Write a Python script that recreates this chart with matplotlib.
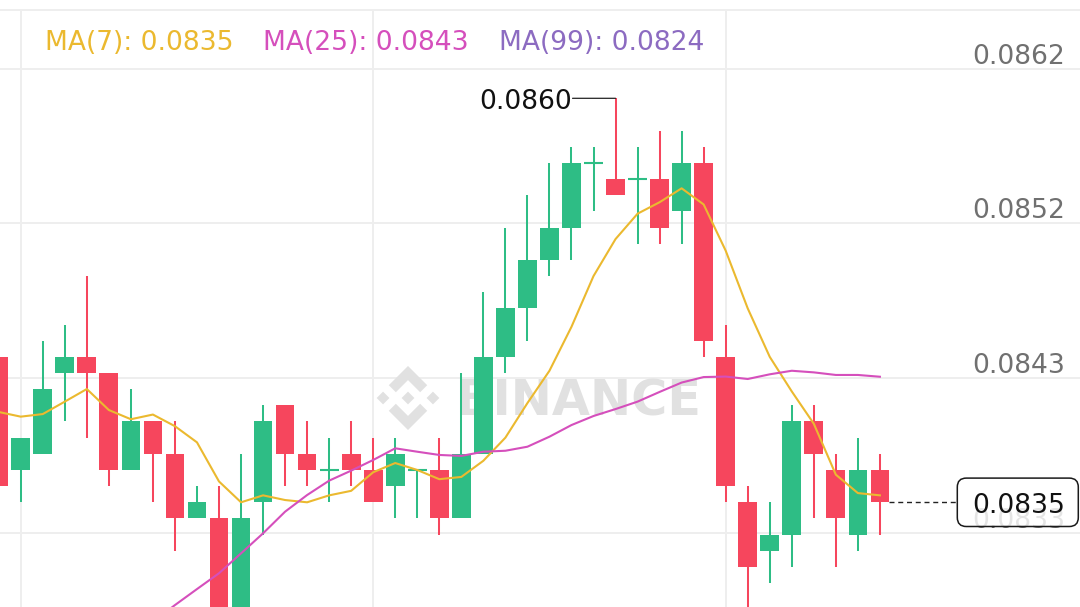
import matplotlib
matplotlib.use("Agg")
import matplotlib.pyplot as plt
from matplotlib.patches import Rectangle, FancyBboxPatch, Polygon
from matplotlib.transforms import IdentityTransform
import numpy as np

plt.rcParams['font.family'] = ['DejaVu Sans']

# ---------------- data ----------------
opens = [0.0844, 0.0837, 0.0838, 0.0843, 0.0844, 0.0843, 0.0837, 0.0840, 0.0838, 0.0834,
         0.0834, 0.0827, 0.0835, 0.0841, 0.0838, 0.0837, 0.0838, 0.0837, 0.0836, 0.0837,
         0.0837, 0.0834, 0.0838, 0.0844, 0.0847, 0.0850, 0.0852, 0.0856, 0.0855, 0.0855,
         0.0855, 0.0853, 0.0856, 0.0844, 0.0835, 0.0832, 0.0833, 0.0840, 0.0837, 0.0833,
         0.0837]
highs = [0.0845, 0.0839, 0.0845, 0.0846, 0.0849, 0.0843, 0.0842, 0.0840, 0.0840, 0.0836,
         0.0836, 0.0838, 0.0841, 0.0841, 0.0840, 0.0839, 0.0840, 0.0839, 0.0839, 0.0837,
         0.0839, 0.0843, 0.0848, 0.0852, 0.0854, 0.0856, 0.0857, 0.0857, 0.0860, 0.0857,
         0.0858, 0.0858, 0.0857, 0.0846, 0.0836, 0.0835, 0.0841, 0.0841, 0.0838, 0.0839,
         0.0838]
lows = [0.0835, 0.0835, 0.0838, 0.0840, 0.0839, 0.0836, 0.0837, 0.0835, 0.0832, 0.0834,
        0.0826, 0.0826, 0.0833, 0.0836, 0.0836, 0.0835, 0.0836, 0.0835, 0.0834, 0.0834,
        0.0833, 0.0834, 0.0838, 0.0843, 0.0845, 0.0849, 0.0850, 0.0853, 0.0854, 0.0851,
        0.0851, 0.0851, 0.0844, 0.0835, 0.0828, 0.0830, 0.0831, 0.0834, 0.0831, 0.0832,
        0.0833]
closes = [0.0836, 0.0839, 0.0842, 0.0844, 0.0843, 0.0837, 0.0840, 0.0838, 0.0834, 0.0835,
          0.0827, 0.0834, 0.0840, 0.0838, 0.0837, 0.0837, 0.0837, 0.0835, 0.0838, 0.0837,
          0.0834, 0.0838, 0.0844, 0.0847, 0.0850, 0.0852, 0.0856, 0.0856, 0.0854, 0.0855,
          0.0852, 0.0856, 0.0845, 0.0836, 0.0831, 0.0833, 0.0840, 0.0838, 0.0834, 0.0837,
          0.0835]

ma7 = [0.084059, 0.084030, 0.084046, 0.084123, 0.084201, 0.084071, 0.084014, 0.084043, 0.083971, 0.083871,
       0.083629, 0.083500, 0.083543, 0.083514, 0.083500, 0.083543, 0.083571, 0.083686, 0.083743, 0.083700,
       0.083643, 0.083657, 0.083757, 0.083900, 0.084114, 0.084314, 0.084586, 0.084900, 0.085129, 0.085286,
       0.085357, 0.085443, 0.085343, 0.085057, 0.084700, 0.084400, 0.084186, 0.083986, 0.083671, 0.083557,
       0.083543]
ma25 = [np.nan] * 7 + [
       0.082760, 0.082864, 0.082963,
       0.083061, 0.083184, 0.083308, 0.083442, 0.083545, 0.083634, 0.083696, 0.083762, 0.083834, 0.083813,
       0.083793, 0.083787, 0.083813, 0.083819, 0.083844, 0.083906, 0.083978, 0.084034, 0.084077, 0.084123,
       0.084183, 0.084241, 0.084275, 0.084278, 0.084263, 0.084292, 0.084314, 0.084304, 0.084288, 0.084288,
       0.084277]

ma_labels = ['MA(7): 0.0835', 'MA(25): 0.0843', 'MA(99): 0.0824']
grid_prices = [0.0861844, 0.0852265, 0.0842710, 0.0833119]
grid_labels = ['0.0862', '0.0852', '0.0843', '0.0833']
last_label = '0.0835'
high_label = '0.0860'

# ---------------- style ----------------
UP = '#2EBD85'
DOWN = '#F6465D'
MA_COLORS = ['#EBB92F', '#D54FBC', '#8C6BC1']
GRID = '#EEEEEE'
LABEL_GRAY = '#707070'
FS = 19.1

W, H, DPI = 1080, 607, 100
fig = plt.figure(figsize=(W / DPI, H / DPI), dpi=DPI)
fig.patch.set_facecolor('white')
ax = fig.add_axes([0, 0, 1, 1])
ax.set_xlim(0.059, 49.083)
ax.set_ylim(0.0828521, 0.0866083)
ax.axis('off')

idx = np.arange(len(opens))
inv = ax.transData.inverted()


def px_price(y_top):
    return inv.transform((0, H - y_top))[1]


def px_x(x_px):
    return inv.transform((x_px, 0))[0]


# grid & frame
top_price = px_price(10)
ax.axhline(top_price, color=GRID, lw=1.4, zorder=0.2)
for p in grid_prices:
    ax.axhline(p, color=GRID, lw=1.4, zorder=0.2)
for g in (1, 17, 33):
    ax.vlines(g, ax.get_ylim()[0], top_price, color=GRID, lw=1.4, zorder=0.2)

# watermark
WM = '#E1E1E1'
ax.text(455, H - 415, 'BINANCE', transform=IdentityTransform(), fontsize=35.5,
        fontweight='bold', color=WM, ha='left', va='baseline', zorder=0.5)
cx, cy, s = 408, H - 398, 32
shapes = [
    [(0, 0.2), (0.2, 0), (0, -0.2), (-0.2, 0)],
    [(-0.78, 0.2), (-0.58, 0), (-0.78, -0.2), (-0.98, 0)],
    [(0.78, 0.2), (0.98, 0), (0.78, -0.2), (0.58, 0)],
    [(0, 1), (0.6, 0.4), (0.38, 0.18), (0, 0.56), (-0.38, 0.18), (-0.6, 0.4)],
    [(0, -1), (0.6, -0.4), (0.38, -0.18), (0, -0.56), (-0.38, -0.18), (-0.6, -0.4)],
]
for sh in shapes:
    pts = [(cx + s * u, cy + s * v) for u, v in sh]
    ax.add_patch(Polygon(pts, closed=True, transform=IdentityTransform(),
                         fc=WM, ec='none', zorder=0.5))

# candles
BW = 0.85
for i in idx:
    o, h, l, c = opens[i], highs[i], lows[i], closes[i]
    col = UP if c >= o else DOWN
    ax.vlines(i, l, h, color=col, lw=1.45, zorder=2)
    if abs(c - o) < 1e-9:
        ax.hlines(o, i - BW / 2, i + BW / 2, color=col, lw=1.5, zorder=3)
    else:
        ax.add_patch(Rectangle((i - BW / 2, min(o, c)), BW, abs(c - o),
                               fc=col, ec='none', zorder=3))

# moving averages
ax.plot(idx, ma7, color=MA_COLORS[0], lw=1.5, zorder=4, solid_joinstyle='round')
ax.plot(idx, ma25, color=MA_COLORS[1], lw=1.5, zorder=4, solid_joinstyle='round')

# price labels
for p, lab in zip(grid_prices, grid_labels):
    ax.annotate(lab, xy=(1065, p), xycoords=('figure pixels', 'data'),
                xytext=(0, 5), textcoords='offset pixels', ha='right', va='baseline',
                fontsize=FS, color=LABEL_GRAY, zorder=5, annotation_clip=False)

# highest-price marker
hi_i = int(np.argmax(highs))
hi = highs[hi_i]
ax.annotate('', xy=(hi_i, hi), xytext=(-43, 0), textcoords='offset pixels',
            arrowprops=dict(arrowstyle='-', color='#222222', lw=0.9, shrinkA=0, shrinkB=0),
            zorder=5)
ax.annotate(high_label, xy=(hi_i, hi), xytext=(-44, -11), textcoords='offset pixels',
            ha='right', va='baseline', fontsize=FS, color='#111111', zorder=5)

# last price line + box
last = closes[-1]
x_box = 957.3
ax.plot([idx[-1] + BW / 2, px_x(x_box)], [last, last], color='#222222', lw=1.0,
        linestyle=(0, (3.6, 2.7)), zorder=5)
y_last = ax.transData.transform((0, last))[1]
box = FancyBboxPatch((x_box, y_last - 24.2), 121, 48.4,
                     boxstyle='round,pad=0,rounding_size=9', transform=IdentityTransform(),
                     fc=(1, 1, 1, 0.82), ec='#1a1a1a', lw=1.1, zorder=5)
fig.add_artist(box)
fig.text(1065, y_last - 10.7, last_label, transform=IdentityTransform(), ha='right',
         va='baseline', fontsize=FS, color='#111111', zorder=6)

# MA legend
for xp, lab, col in zip((45, 263.4, 499.3), ma_labels, MA_COLORS):
    fig.text(xp, H - 49.5, lab, transform=IdentityTransform(), ha='left', va='baseline',
             fontsize=FS, color=col)

fig.savefig('out.png', dpi=DPI, facecolor='white')
